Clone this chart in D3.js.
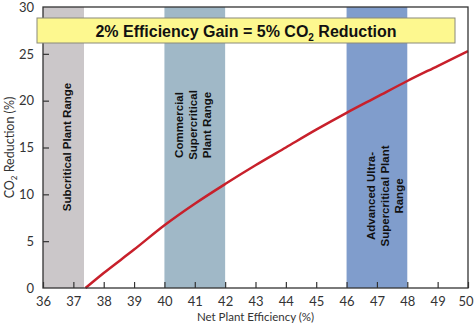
<!DOCTYPE html>
<html>
<head>
<meta charset="utf-8">
<script src="https://cdn.jsdelivr.net/npm/d3@7"></script>
<style>
  body { margin: 0; background: #fff; }
  svg { display: block; }
</style>
</head>
<body>
<div id="chart"></div>
<script>
var width = 474;
var height = 327;
var margin = {top: 7, right: 6, bottom: 39, left: 43};

// net plant efficiency (%) vs CO2 reduction (%)
var efficiency = [37.4, 38, 39, 40, 41, 42, 43, 44, 45, 46, 47, 48, 49, 50];
var reduction = [0, 1.6, 4.1, 6.7, 9.0, 11.1, 13.1, 15.0, 16.9, 18.7, 20.4, 22.1, 23.7, 25.3];

var xTicks = [36, 37, 38, 39, 40, 41, 42, 43, 44, 45, 46, 47, 48, 49, 50];
var yTicks = [0, 5, 10, 15, 20, 25, 30];

// plant ranges (efficiency bands)
var bandNames = ["Subcritical", "Commercial", "Advanced"];
var bandStart = [36, 40, 46];
var bandEnd = [37.35, 42, 48];
var bandLines = [
  ["Subcritical Plant Range"],
  ["Commercial", "Supercritical", "Plant Range"],
  ["Advanced Ultra-", "Supercritical Plant", "Range"]
];
var bandColors = ["#cbc7c9", "#a0b8c7", "#809dcc"];

var svg = d3.select("#chart").append("svg")
  .attr("width", width)
  .attr("height", height);

var x = d3.scaleLinear().domain([36, 50]).range([margin.left, width - margin.right]);
var y = d3.scaleLinear().domain([0, 30]).range([height - margin.bottom, margin.top]);

// shaded bands
var bands = bandNames.map(function (d, i) {
  return {name: d, start: bandStart[i], end: bandEnd[i], lines: bandLines[i], color: bandColors[i]};
});

svg.selectAll("rect.band")
  .data(bands)
  .enter()
  .append("rect")
  .attr("class", "band")
  .attr("x", function (d) { return x(d.start); })
  .attr("y", y(30))
  .attr("width", function (d) { return x(d.end) - x(d.start); })
  .attr("height", y(0) - y(30))
  .style("fill", function (d) { return d.color; });

// rotated band labels
var labelPos = [{cx: 67, cy: 147}, {cx: 193, cy: 125}, {cx: 385, cy: 196}];
var lineGap = 13.8;
bands.forEach(function (d, i) {
  var n = d.lines.length;
  var g = svg.append("g")
    .attr("transform", "translate(" + labelPos[i].cx + "," + labelPos[i].cy + ") rotate(-90)");
  g.selectAll("text")
    .data(d.lines)
    .enter()
    .append("text")
    .attr("x", 0)
    .attr("y", function (t, j) { return (j - (n - 1) / 2) * lineGap; })
    .attr("dy", "0.35em")
    .attr("text-anchor", "middle")
    .style("font-family", "'Liberation Sans', Arial, sans-serif")
    .style("font-weight", "bold")
    .style("font-size", "11.5px")
    .style("fill", "#111")
    .text(function (t) { return t; });
});

// curve
var points = efficiency.map(function (e, i) { return [e, reduction[i]]; });
var line = d3.line()
  .x(function (d) { return x(d[0]); })
  .y(function (d) { return y(d[1]); })
  .curve(d3.curveMonotoneX);

svg.append("path")
  .datum(points)
  .attr("d", line)
  .style("fill", "none")
  .style("stroke", "#c8202b")
  .style("stroke-width", 2.5);

// frame
svg.append("rect")
  .attr("x", x(36))
  .attr("y", y(30))
  .attr("width", x(50) - x(36))
  .attr("height", y(0) - y(30))
  .style("fill", "none")
  .style("stroke", "#333")
  .style("stroke-width", 1.3);

var tickFont = "Lato, 'Open Sans', sans-serif";

// x axis, ticks pointing inward
var xAxis = svg.append("g")
  .attr("transform", "translate(0," + y(0) + ")")
  .call(d3.axisBottom(x).tickValues(xTicks).tickSizeInner(-6).tickSizeOuter(0).tickPadding(9));
xAxis.select(".domain").remove();
xAxis.selectAll("line").style("stroke", "#333").style("stroke-width", 1.2);
xAxis.selectAll("text")
  .style("font-family", tickFont)
  .style("font-size", "13px")
  .style("fill", "#333");
// last label sits against the right edge
xAxis.selectAll(".tick").filter(function (d) { return d === 50; }).select("text")
  .attr("text-anchor", "end")
  .attr("x", 5);

// y axis, ticks pointing inward
var yAxis = svg.append("g")
  .attr("transform", "translate(" + x(36) + ",0)")
  .call(d3.axisLeft(y).tickValues(yTicks).tickSizeInner(-6).tickSizeOuter(0).tickPadding(9));
yAxis.select(".domain").remove();
yAxis.selectAll("line").style("stroke", "#333").style("stroke-width", 1.2);
yAxis.selectAll("text")
  .style("font-family", tickFont)
  .style("font-size", "13px")
  .style("fill", "#333");
yAxis.selectAll(".tick").filter(function (d) { return d === 0 || d === 30; }).select("line").remove();

// axis titles
svg.append("text")
  .attr("x", (x(36) + x(50)) / 2)
  .attr("y", 321)
  .attr("text-anchor", "middle")
  .style("font-family", tickFont)
  .style("font-size", "11.5px")
  .style("fill", "#333")
  .text("Net Plant Efficiency (%)");

var yTitle = svg.append("text")
  .attr("transform", "translate(14," + ((y(0) + y(30)) / 2) + ") rotate(-90)")
  .attr("text-anchor", "middle")
  .style("font-family", tickFont)
  .style("font-size", "12.5px")
  .style("fill", "#333");
yTitle.append("tspan").text("CO");
yTitle.append("tspan").attr("dy", 3).style("font-size", "8px").text("2");
yTitle.append("tspan").attr("dy", -3).text(" Reduction (%)");

// headline box
svg.append("rect")
  .attr("x", 37)
  .attr("y", 18)
  .attr("width", 418)
  .attr("height", 25)
  .style("fill", "#fdf88f")
  .style("stroke", "#8a8a7a")
  .style("stroke-width", 1);

var title = svg.append("text")
  .attr("x", 246)
  .attr("y", 36.5)
  .attr("text-anchor", "middle")
  .style("font-family", "'Liberation Sans', Arial, sans-serif")
  .style("font-weight", "bold")
  .style("font-size", "16px")
  .style("fill", "#111");
title.append("tspan").text("2% Efficiency Gain = 5% CO");
title.append("tspan").attr("dy", 4).style("font-size", "10px").text("2");
title.append("tspan").attr("dy", -4).text(" Reduction");
</script>
</body>
</html>
